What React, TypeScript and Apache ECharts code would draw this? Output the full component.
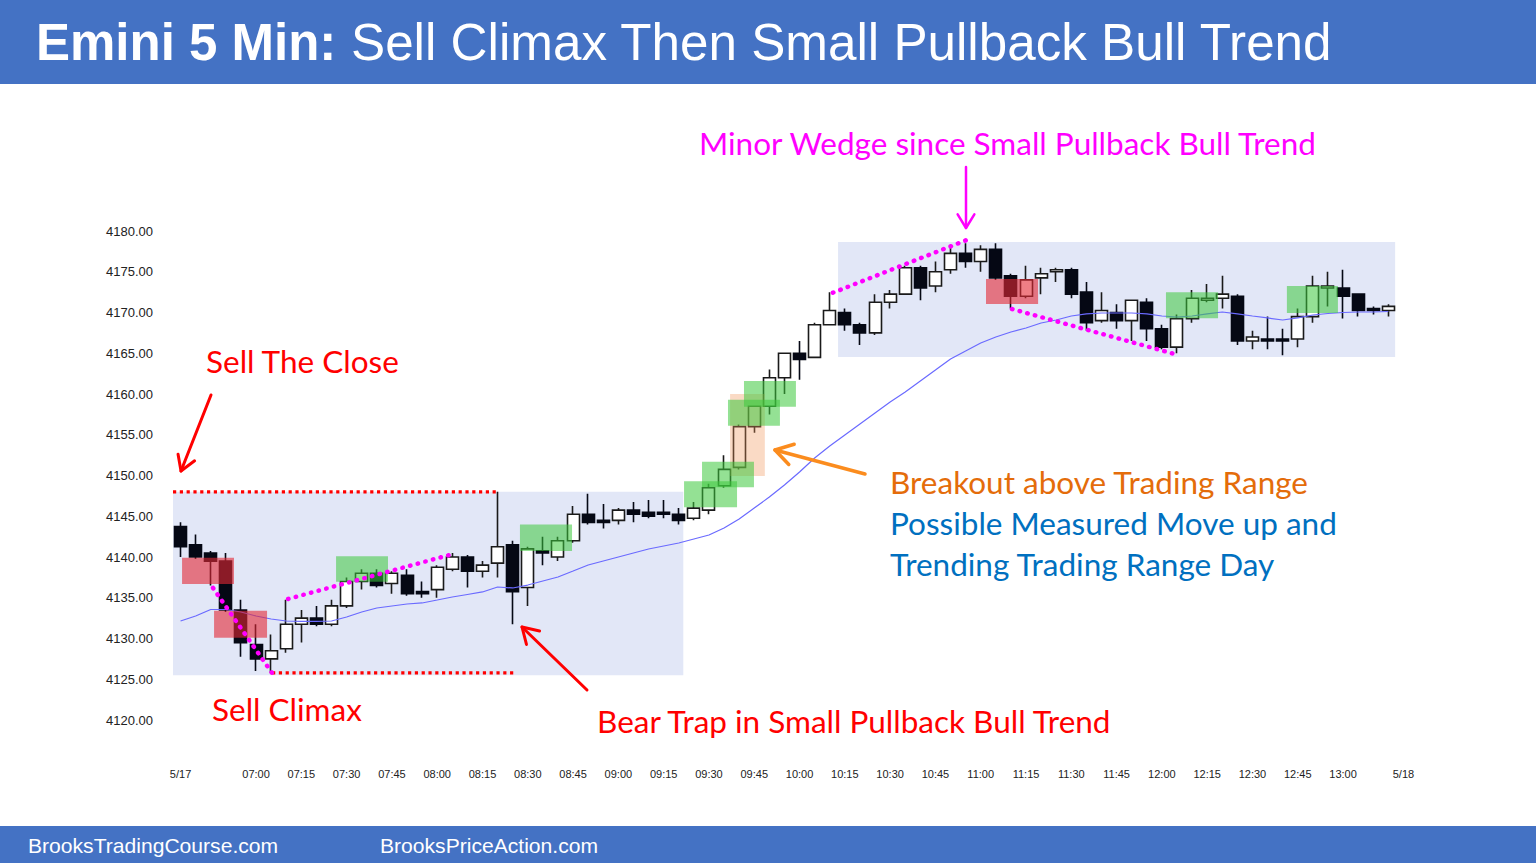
import React, { useEffect, useRef } from "react";
import * as echarts from "echarts";

// ---- axis categories (5-minute bars, 06:35 .. 13:20) ----
const categories: string[] = [];
for (let i = 0; i < 82; i++) {
  const m = 6 * 60 + 35 + 5 * i;
  categories.push(String(Math.floor(m / 60)).padStart(2, "0") + ":" + String(m % 60).padStart(2, "0"));
}
const tickLabels = ["5/17", "07:00", "07:15", "07:30", "07:45", "08:00", "08:15", "08:30", "08:45", "09:00", "09:15", "09:30", "09:45", "10:00", "10:15", "10:30", "10:45", "11:00", "11:15", "11:30", "11:45", "12:00", "12:15", "12:30", "12:45", "13:00", "5/18"];

// ---- OHLC ----
const opens = [
  4143.75, 4141.5, 4140.5, 4139.5, 4133.5, 4129.25, 4127.5, 4128.75, 4131.75, 4132.5,
  4131.75, 4134.0, 4137.0, 4138.0, 4136.75, 4137.75, 4135.75, 4136.0, 4138.5, 4140.0,
  4138.25, 4139.25, 4141.5, 4136.25, 4140.75, 4140.0, 4142.0, 4145.25, 4144.5, 4144.5,
  4145.75, 4145.5, 4145.5, 4145.25, 4144.75, 4145.75, 4148.75, 4151.0, 4156.0, 4158.5,
  4162.0, 4165.0, 4164.5, 4168.5, 4170.0, 4168.5, 4167.5, 4171.25, 4172.25, 4175.5,
  4173.25, 4175.25, 4177.25, 4176.25, 4177.75, 4174.5, 4172.0, 4174.25, 4175.0, 4175.25,
  4172.5, 4169.0, 4170.0, 4169.0, 4171.25, 4168.0, 4165.75, 4169.25, 4171.5, 4171.75,
  4172.0, 4166.5, 4166.75, 4166.75, 4166.75, 4169.5, 4173.0, 4173.0, 4172.25, 4170.5,
  4170.25,
];
const closes = [
  4141.25, 4140.0, 4139.5, 4133.5, 4129.5, 4127.5, 4128.5, 4131.75, 4132.5, 4131.75,
  4134.0, 4137.0, 4138.0, 4136.5, 4138.0, 4135.5, 4135.5, 4138.75, 4140.0, 4138.25,
  4139.0, 4141.25, 4135.75, 4141.0, 4140.5, 4142.0, 4145.25, 4144.25, 4144.25, 4145.75,
  4145.25, 4145.0, 4145.25, 4144.5, 4146.0, 4148.5, 4150.75, 4156.0, 4158.5, 4162.0,
  4165.0, 4164.25, 4168.5, 4170.25, 4168.5, 4167.5, 4171.25, 4172.25, 4175.5, 4173.0,
  4175.0, 4177.25, 4176.25, 4177.75, 4174.25, 4172.0, 4174.0, 4174.75, 4175.25, 4172.25,
  4168.75, 4170.25, 4169.0, 4171.5, 4168.0, 4165.75, 4169.25, 4171.75, 4171.75, 4172.25,
  4166.5, 4167.0, 4166.5, 4166.5, 4169.5, 4173.25, 4173.25, 4172.0, 4170.25, 4170.25,
  4170.75,
];
const highs = [
  4144.25, 4142.75, 4140.75, 4140.5, 4134.75, 4131.75, 4130.5, 4134.75, 4133.5, 4134.0,
  4134.75, 4137.5, 4138.5, 4138.5, 4138.25, 4138.5, 4137.0, 4139.0, 4140.5, 4140.25,
  4139.5, 4148.0, 4142.0, 4141.25, 4142.5, 4142.5, 4146.25, 4147.75, 4146.5, 4146.0,
  4146.75, 4147.0, 4147.0, 4146.0, 4146.75, 4149.0, 4152.5, 4156.25, 4158.5, 4163.0,
  4165.0, 4166.5, 4168.75, 4172.5, 4170.5, 4168.75, 4172.25, 4172.75, 4175.75, 4175.75,
  4176.25, 4178.25, 4178.5, 4178.25, 4178.5, 4174.75, 4175.75, 4175.5, 4175.5, 4175.5,
  4173.75, 4172.5, 4171.0, 4171.5, 4171.75, 4168.5, 4169.75, 4172.75, 4173.5, 4174.5,
  4172.25, 4167.75, 4169.5, 4168.0, 4170.5, 4174.5, 4175.0, 4175.25, 4172.25, 4170.75,
  4171.0,
];
const lows = [
  4140.0, 4139.75, 4136.5, 4133.25, 4127.75, 4126.0, 4125.75, 4128.25, 4129.5, 4131.5,
  4131.5, 4133.75, 4136.0, 4136.25, 4135.5, 4135.25, 4135.0, 4135.0, 4138.25, 4136.25,
  4137.5, 4137.5, 4131.75, 4134.0, 4139.0, 4139.5, 4141.75, 4144.0, 4143.5, 4144.0,
  4144.25, 4144.75, 4144.75, 4144.0, 4144.5, 4145.25, 4148.5, 4150.75, 4155.25, 4157.5,
  4160.0, 4161.75, 4164.5, 4168.5, 4167.75, 4166.0, 4167.25, 4170.5, 4172.25, 4171.5,
  4172.5, 4174.75, 4175.5, 4175.0, 4174.0, 4170.5, 4171.75, 4172.25, 4173.75, 4171.75,
  4167.75, 4168.75, 4168.0, 4166.5, 4166.5, 4165.5, 4165.0, 4168.75, 4171.25, 4170.5,
  4166.0, 4165.5, 4165.5, 4164.75, 4165.75, 4168.75, 4170.75, 4169.25, 4169.5, 4169.75,
  4169.5,
];
// 20-bar moving average line
const ema = [
  4132.15, 4132.76, 4133.56, 4133.56, 4133.25, 4132.76, 4132.39, 4132.15, 4132.09, 4132.09,
  4132.15, 4132.64, 4133.25, 4133.74, 4133.99, 4134.23, 4134.36, 4134.72, 4135.09, 4135.40,
  4135.71, 4136.32, 4136.20, 4136.56, 4137.06, 4137.55, 4138.28, 4139.02, 4139.51, 4140.00,
  4140.49, 4140.98, 4141.35, 4141.72, 4142.21, 4142.70, 4143.56, 4144.66, 4146.01, 4147.36,
  4148.83, 4150.43, 4152.15, 4153.62, 4154.97, 4156.32, 4157.67, 4159.02, 4160.25, 4161.60,
  4162.94, 4164.29, 4165.28, 4166.26, 4166.99, 4167.61, 4168.10, 4168.71, 4169.08, 4169.57,
  4169.82, 4169.94, 4169.94, 4169.94, 4169.82, 4169.57, 4169.45, 4169.57, 4169.82, 4170.06,
  4169.82, 4169.57, 4169.33, 4169.08, 4169.33, 4169.69, 4169.88, 4170.00, 4170.06, 4170.06,
  4170.12,
];

// ---- annotation boxes [barFrom, barTo, priceTop, priceBottom] ----
const rangeBoxes = [
  [-0.5, 33.3, 4148.0, 4125.5],
  [43.55, 80.45, 4178.65, 4164.55],
];
const redBoxes = [
  [0.1, 3.54, 4139.9, 4136.7],
  [2.22, 5.73, 4133.4, 4130.1],
  [53.35, 56.8, 4174.1, 4171.05],
];
const greenBoxes = [
  [10.3, 13.74, 4140.1, 4136.95],
  [22.48, 25.93, 4144.0, 4140.75],
  [33.35, 36.86, 4149.3, 4146.1],
  [34.54, 37.98, 4151.7, 4148.55],
  [36.26, 39.7, 4159.3, 4156.1],
  [37.32, 40.76, 4161.6, 4158.45],
  [65.27, 68.72, 4172.5, 4169.3],
  [73.28, 76.66, 4173.25, 4169.95],
];
const peachBoxes = [[36.4, 38.7, 4160.0, 4149.95]];

// ---- dotted lines [[bar, price], [bar, price]] ----
const redDotted = [
  [[-0.5, 4148.0], [21.03, 4148.0]],
  [[6.06, 4125.77], [22.1, 4125.77]],
];
const magentaDotted = [
  [[2.15, 4136.2], [6.06, 4125.77]],
  [[7.12, 4134.85], [18.05, 4140.37]],
  [[43.21, 4172.43], [52.08, 4178.9]],
  [[55.07, 4170.43], [66.07, 4164.79]],
];

const BLUE = "#4472C4";
const ANN_FONT = '"Lato", "Open Sans", sans-serif';

function arrow(x1: number, y1: number, x2: number, y2: number, color: string, w: number, len = 17) {
  const a = Math.atan2(y2 - y1, x2 - x1);
  const h1 = [x2 - len * Math.cos(a - 0.55), y2 - len * Math.sin(a - 0.55)];
  const h2 = [x2 - len * Math.cos(a + 0.55), y2 - len * Math.sin(a + 0.55)];
  return [
    { type: "line", z: 100, shape: { x1, y1, x2, y2 }, style: { stroke: color, lineWidth: w, lineCap: "round" } },
    { type: "polyline", z: 100, shape: { points: [h1, [x2, y2], h2] }, style: { stroke: color, lineWidth: w, fill: null, lineJoin: "round", lineCap: "round" } },
  ];
}

function annText(text: string, x: number, y: number, color: string, size = 31.5) {
  return {
    type: "text",
    z: 100,
    x,
    y,
    style: { text, fill: color, font: `${size}px ${ANN_FONT}`, textAlign: "left", textVerticalAlign: "middle" },
  };
}

function boxSeries(name: string, data: number[][], fill: string, z: number) {
  return {
    type: "custom",
    name,
    xAxisIndex: 1,
    yAxisIndex: 0,
    z,
    silent: true,
    encode: { x: [0, 1], y: [2, 3] },
    data,
    renderItem: (_p: any, api: any) => {
      const a = api.coord([api.value(0), api.value(2)]);
      const b = api.coord([api.value(1), api.value(3)]);
      return { type: "rect", shape: { x: a[0], y: a[1], width: b[0] - a[0], height: b[1] - a[1] }, style: { fill } };
    },
  };
}

export default function App() {
  const ref = useRef<HTMLDivElement>(null);
  useEffect(() => {
    if (!ref.current) return;
    const chart = echarts.init(ref.current, null, { renderer: "svg" });
    const labelAt: Record<number, string> = {};
    categories.forEach((c, i) => {
      if (i === 0) labelAt[i] = tickLabels[0];
      else if (i === categories.length - 1) labelAt[i] = tickLabels[tickLabels.length - 1];
      else if (tickLabels.indexOf(c) >= 0) labelAt[i] = c;
    });
    const candles = opens.map((o, i) => [o, closes[i], lows[i], highs[i]]);

    const lineSeries = (segs: number[][][], color: string, width: number, type: any, cap: string) =>
      segs.map((s) => ({
        type: "line",
        xAxisIndex: 1,
        yAxisIndex: 0,
        z: 6,
        silent: true,
        showSymbol: false,
        data: s,
        lineStyle: { color, width, type, cap },
      }));

    chart.setOption({
      animation: false,
      backgroundColor: "#ffffff",
      grid: { left: 173, top: 231, width: 1238, height: 489, containLabel: false },
      xAxis: [
        {
          type: "category",
          data: categories,
          boundaryGap: true,
          axisLine: { show: false },
          axisTick: { show: false },
          splitLine: { show: false },
          axisLabel: {
            interval: (i: number) => labelAt[i] !== undefined,
            formatter: (_v: string, i: number) => labelAt[i] || "",
            margin: 48,
            fontSize: 11,
            color: "#222",
            fontFamily: '"Liberation Sans Narrow", "Liberation Sans", Arial, sans-serif',
          },
        },
        { type: "value", min: -0.5, max: 81.5, show: false },
      ],
      yAxis: [
        {
          type: "value",
          min: 4120,
          max: 4180,
          interval: 5,
          axisLine: { show: false },
          axisTick: { show: false },
          splitLine: { show: false },
          axisLabel: {
            formatter: (v: number) => v.toFixed(2),
            margin: 20,
            fontSize: 13,
            color: "#222",
            fontFamily: '"Liberation Sans", Arial, sans-serif',
          },
        },
      ],
      series: [
        boxSeries("range", rangeBoxes, "#e2e7f7", 1),
        {
          type: "candlestick",
          xAxisIndex: 0,
          yAxisIndex: 0,
          z: 2,
          barWidth: 12.5,
          data: candles,
          itemStyle: {
            color: "#ffffff",
            color0: "#050814",
            borderColor: "#1a1a1a",
            borderColor0: "#050814",
            borderWidth: 1.6,
          },
        },
        {
          type: "line",
          xAxisIndex: 0,
          yAxisIndex: 0,
          z: 3,
          data: ema,
          showSymbol: false,
          smooth: false,
          lineStyle: { color: "#6a6aff", width: 1.2 },
        },
        boxSeries("peach", peachBoxes, "rgba(240,150,90,0.35)", 4),
        boxSeries("green", greenBoxes, "rgba(60,200,60,0.55)", 4),
        boxSeries("red", redBoxes, "rgba(228,40,52,0.6)", 4),
        ...lineSeries(redDotted, "#ff0000", 3.2, [3.2, 3.6], "butt"),
        ...lineSeries(magentaDotted, "#ff00ff", 4.5, [0.5, 7.4], "round"),
      ],
      graphic: [
        { type: "rect", z: 90, shape: { x: 0, y: 0, width: 1536, height: 84 }, style: { fill: BLUE } },
        {
          type: "text",
          z: 100,
          x: 36,
          y: 42,
          style: { text: "Emini 5 Min:", fill: "#fff", font: 'bold 51px "Liberation Sans", Arial, sans-serif', textVerticalAlign: "middle" },
        },
        {
          type: "text",
          z: 100,
          x: 351,
          y: 42,
          style: { text: "Sell Climax Then Small Pullback Bull Trend", fill: "#fff", font: '51.2px "Liberation Sans", Arial, sans-serif', textVerticalAlign: "middle" },
        },
        { type: "rect", z: 90, shape: { x: 0, y: 826, width: 1536, height: 37 }, style: { fill: BLUE } },
        {
          type: "text",
          z: 100,
          x: 28,
          y: 845,
          style: { text: "BrooksTradingCourse.com", fill: "#fff", font: '21.1px "Liberation Sans", Arial, sans-serif', textVerticalAlign: "middle" },
        },
        {
          type: "text",
          z: 100,
          x: 380,
          y: 845,
          style: { text: "BrooksPriceAction.com", fill: "#fff", font: '21.1px "Liberation Sans", Arial, sans-serif', textVerticalAlign: "middle" },
        },
        annText("Minor Wedge since Small Pullback Bull Trend", 699, 143, "#ff00ff"),
        annText("Sell The Close", 206, 361, "#ff0000"),
        annText("Sell Climax", 212, 709, "#ff0000"),
        annText("Bear Trap in Small Pullback Bull Trend", 597, 721, "#ff0000"),
        annText("Breakout above Trading Range", 890, 482, "#e46c0a"),
        annText("Possible Measured Move up and", 890, 523, "#0070c0"),
        annText("Trending Trading Range Day", 890, 564, "#0070c0"),
        ...arrow(211, 395, 181, 471, "#ff0000", 3, 17),
        ...arrow(587, 690, 522, 627, "#ff0000", 3, 18),
        ...arrow(865, 474, 775, 450, "#fb8c1e", 3.5, 20),
        ...arrow(966, 167, 966, 228, "#ff00ff", 2.5, 16),
      ],
    });
    return () => chart.dispose();
  }, []);
  return <div ref={ref} style={{ position: "fixed", left: 0, top: 0, width: 1536, height: 863 }} />;
}
